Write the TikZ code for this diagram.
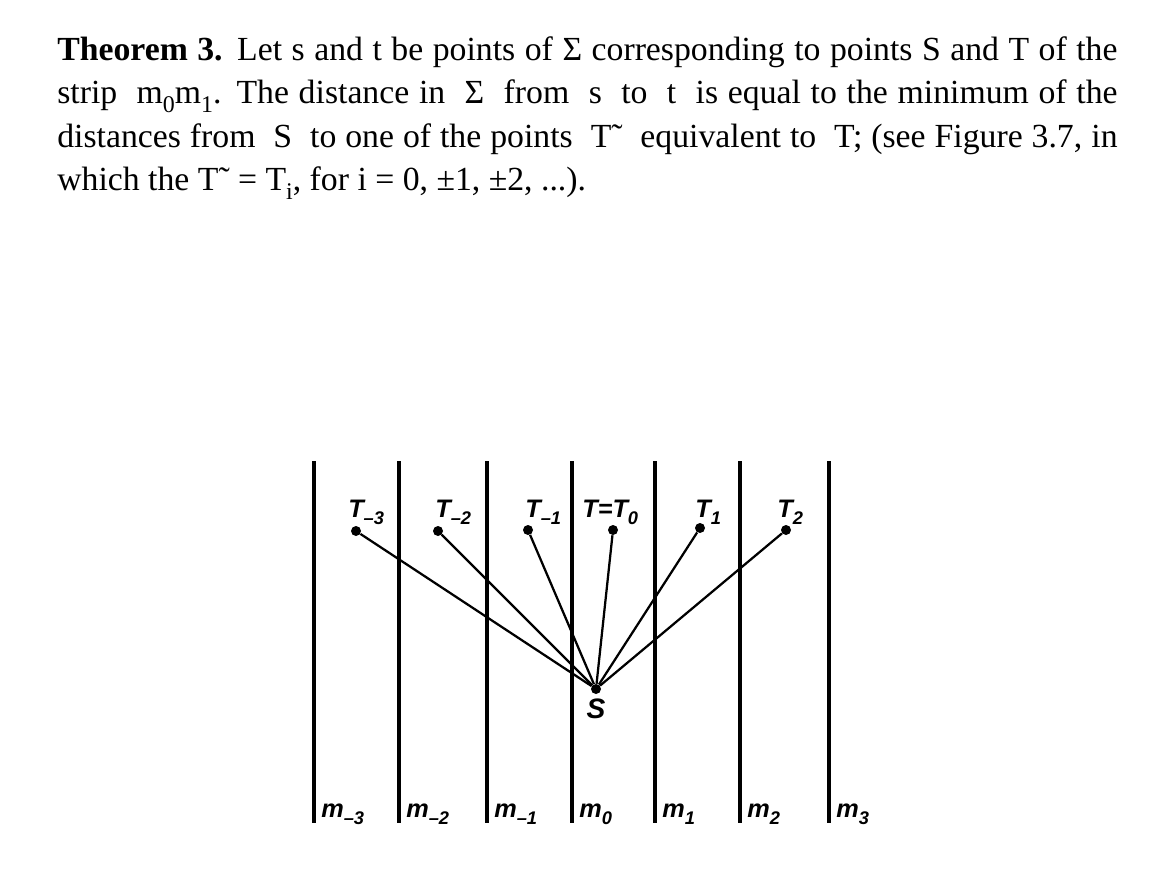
\documentclass[tikz,border=0pt]{standalone}
\usepackage{fontspec}
\setmainfont{Liberation Serif}
\newfontfamily\figfont{Liberation Sans}
\usetikzlibrary{positioning}

% lowered subscripts, in the text and in the figure
\newcommand\txtsub[1]{\raisebox{-0.6ex}{\fontsize{17}{17}\selectfont #1}}
\newcommand\figsub[1]{\raisebox{-0.55ex}{\fontsize{13}{13}\selectfont #1}}

\begin{document}
\begin{tikzpicture}[x=0.025cm, y=-0.025cm,
  strip line/.style={line width=2.3pt},
  edge line/.style={line width=1.6pt},
  main node/.style={circle,fill,inner sep=0pt,minimum size=0.25cm},
  label node/.style={font=\fontsize{18}{18}\selectfont\figfont\bfseries\itshape,inner sep=0pt,anchor=base west},
  thm line/.style={font=\fontsize{24}{24}\selectfont,inner sep=0pt,anchor=base west}]
\useasboundingbox (0,0) rectangle (1168,868);

% the theorem
\node[thm line](l1) at (57,60) {\makebox[26.5cm][s]{\textbf{Theorem 3.} Let s and t be points of Σ corresponding to points\ S\ and\ T\ of the}};
\node[thm line](l2) at (57,103) {\makebox[26.5cm][s]{strip\ \ m\txtsub{0}m\txtsub{1}. The distance in\ \ Σ\ \ from\ \ s\ \ to\ \ t\ \ is equal to the minimum of the}};
\node[thm line](l3) at (57,147) {\makebox[26.5cm][s]{distances from\ \ S\ \ to one of the points\ \ T˜\ \ equivalent to\ \ T; (see Figure 3.7, in}};
\node[thm line](l4) at (57,190) {which the T˜ = T\txtsub{i}, for i = 0, ±1, ±2, ...).};

% the strips
\foreach \i/\x/\s in {-3/314/–3,-2/399/–2,-1/487/–1,0/572/0,1/655/1,2/740/2,3/829/3}{
  \coordinate(top\i) at (\x,461);
  \coordinate(bot\i) at (\x,823);
  \draw[strip line](top\i)--(bot\i);
  \node[label node](m\i) at (\x+7,817) {m\figsub{\s}};
}

% the points
\node[main node](T-3) at (356,531) {};
\node[main node](T-2) at (438,531) {};
\node[main node](T-1) at (528,530) {};
\node[main node](T0) at (613,530) {};
\node[main node](T1) at (700,528) {};
\node[main node](T2) at (786,530) {};
\node[main node](S) at (596,689) {};

\node[label node](t-3) at (348,517) {T\figsub{–3}};
\node[label node](t-2) at (435,517) {T\figsub{–2}};
\node[label node](t-1) at (525,517) {T\figsub{–1}};
\node[label node](t0) at (582,517) {T=T\figsub{0}};
\node[label node](t1) at (695,517) {T\figsub{1}};
\node[label node](t2) at (777,517) {T\figsub{2}};
\node[label node,anchor=center,font=\fontsize{20}{20}\selectfont\figfont\bfseries\itshape](s)[below of=S,node distance=0.5cm]{S};

\foreach \t in {-3,...,2}
  \draw[edge line](S)--(T\t);
\end{tikzpicture}
\end{document}
